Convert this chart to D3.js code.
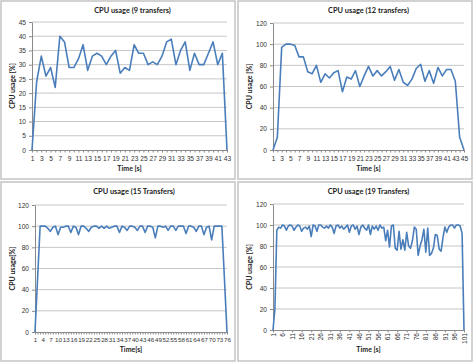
<!DOCTYPE html>
<html lang="en">
<head>
<meta charset="UTF-8" />
<title>CPU usage</title>
<script src="https://d3js.org/d3.v7.min.js"></script>
<style>
  body { margin: 0; background: #fff; }
  svg { display: block; font-family: Lato, "Open Sans", sans-serif; }
  .frame { fill: #fff; stroke: #c4c4c4; stroke-width: 1.5; }
  .grid line { stroke: #c6c6c6; stroke-width: 1; }
  .axis path, .axis line { stroke: #8a8a8a; }
  .axis text { fill: #333; font-size: 6.6px; }
  .title { font-size: 7.4px; font-weight: bold; fill: #222; }
  .label { font-size: 7px; font-weight: bold; fill: #222; }
</style>
</head>
<body>
<svg id="chart" width="474" height="363"></svg>
<script>
// CPU usage per second
const usage9 = [0, 24, 33, 26, 29, 22, 40, 38, 29, 29, 32, 37, 28, 33, 34, 33, 30, 33, 35, 27,
  29, 28, 37, 34, 34, 30, 31, 30, 33, 38, 39, 30, 35, 38, 28, 34, 30, 30, 34, 38, 30, 34, 0];

const usage12 = [0, 12, 97, 100, 100, 99, 88, 88, 74, 72, 80, 64, 72, 68, 73, 75, 55, 69, 67, 75,
  60, 70, 79, 70, 75, 70, 74, 79, 66, 76, 64, 61, 67, 77, 81, 65, 75, 63, 78, 70, 76, 76, 65, 12, 0];

const usage15 = [0, 50, 100, 100, 100, 98, 95, 99, 100, 92, 99, 99, 100, 100, 94, 100, 99, 92, 100, 100,
  98, 95, 99, 100, 100, 98, 100, 98, 100, 98, 99, 100, 100, 94, 100, 99, 96, 100, 100, 99,
  96, 100, 100, 94, 100, 100, 99, 89, 100, 100, 99, 100, 96, 100, 100, 96, 100, 100, 100, 93,
  100, 100, 99, 95, 100, 100, 92, 99, 100, 87, 100, 100, 100, 100, 50, 0];

const usage19 = [0, 20, 95, 98, 97, 100, 99, 95, 99, 100, 99, 95, 98, 100, 99, 94, 97, 98, 96, 99,
  89, 100, 99, 94, 100, 100, 98, 97, 99, 97, 100, 98, 92, 99, 100, 97, 99, 96, 98, 100,
  93, 99, 100, 96, 99, 91, 98, 100, 97, 95, 100, 91, 99, 96, 99, 95, 100, 97, 98, 85,
  95, 79, 99, 100, 78, 76, 94, 77, 86, 76, 93, 80, 78, 85, 98, 96, 71, 80, 86, 96,
  74, 97, 71, 73, 78, 91, 90, 77, 75, 88, 98, 93, 98, 100, 100, 97, 100, 100, 99, 92, 0];

const yTicks9 = [0, 5, 10, 15, 20, 25, 30, 35, 40, 45];
const yTicks100 = [0, 20, 40, 60, 80, 100, 120];

const titles = ["CPU usage (9 transfers)", "CPU usage (12 transfers)",
  "CPU usage (15 Transfers)", "CPU usage (19 Transfers)"];
const yTitles = ["CPU usage [%]", "CPU usage [%]", "CPU usage[%]", "CPU usage [%]"];
const xTitles = ["Time [s]", "Time [s]", "Time[s]", "Time [s]"];
const labelEvery = [2, 2, 3, 5];

const panels = [
  { values: usage9, yTicks: yTicks9, tickEvery: 1, rotate: false, fs: 6.6,
    box: [1, 1, 234, 178], plot: { l: 32, r: 227, t: 22, b: 150 }, yTitleX: 13 },
  { values: usage12, yTicks: yTicks100, tickEvery: 1, rotate: false, fs: 6.6,
    box: [238, 1, 234, 178], plot: { l: 273, r: 464, t: 23, b: 150 }, yTitleX: 250 },
  { values: usage15, yTicks: yTicks100, tickEvery: 1, rotate: false, fs: 6.2,
    box: [1, 182, 234, 179], plot: { l: 35, r: 227, t: 205, b: 332 }, yTitleX: 13 },
  { values: usage19, yTicks: yTicks100, tickEvery: 5, rotate: true, fs: 6.6,
    box: [238, 182, 234, 179], plot: { l: 273, r: 464, t: 204, b: 330 }, yTitleX: 250 }
];

const svg = d3.select("#chart");

panels.forEach((p, k) => {
  const g = svg.append("g");
  const [bx, by, bw, bh] = p.box;
  const cats = p.values.map((d, i) => i + 1);

  g.append("rect").attr("class", "frame")
    .attr("x", bx).attr("y", by).attr("width", bw).attr("height", bh);

  const x = d3.scalePoint().domain(cats).range([p.plot.l, p.plot.r]);
  const y = d3.scaleLinear()
    .domain([0, p.yTicks[p.yTicks.length - 1]])
    .range([p.plot.b, p.plot.t]);

  // horizontal gridlines
  g.append("g").attr("class", "grid")
    .selectAll("line")
    .data(p.yTicks.slice(1))
    .join("line")
    .attr("x1", p.plot.l).attr("x2", p.plot.r)
    .attr("y1", (d) => y(d)).attr("y2", (d) => y(d));

  // y axis
  g.append("g").attr("class", "axis")
    .attr("transform", `translate(${p.plot.l},0)`)
    .call(d3.axisLeft(y).tickValues(p.yTicks).tickSize(3).tickPadding(3).tickSizeOuter(0));

  // x axis: small tick marks, then labels
  g.append("g").attr("class", "axis")
    .attr("transform", `translate(0,${p.plot.b})`)
    .call(d3.axisBottom(x)
      .tickValues(cats.filter((d, i) => i % p.tickEvery === 0))
      .tickSize(2.5).tickSizeOuter(0).tickFormat(""));

  const labels = cats.filter((d, i) => i % labelEvery[k] === 0);
  const xl = g.append("g").attr("class", "axis")
    .attr("transform", `translate(0,${p.plot.b})`)
    .call(d3.axisBottom(x).tickValues(labels).tickSize(0).tickPadding(6));
  xl.select(".domain").remove();
  xl.selectAll("text").style("font-size", p.fs + "px");
  if (p.rotate) {
    xl.selectAll("text")
      .attr("transform", "rotate(-90)")
      .attr("text-anchor", "end")
      .attr("x", -3).attr("y", 0).attr("dy", "0.32em");
  }

  // data line
  g.append("path")
    .datum(p.values)
    .attr("fill", "none")
    .attr("stroke", "#4a7ebb")
    .attr("stroke-width", 1.6)
    .attr("stroke-linejoin", "round")
    .attr("d", d3.line().x((d, i) => x(cats[i])).y((d) => y(d)));

  // titles
  g.append("text").attr("class", "title")
    .attr("x", (p.plot.l + p.plot.r) / 2 + (k % 2 ? 0 : 3))
    .attr("y", by + 11.5)
    .attr("text-anchor", "middle")
    .text(titles[k]);

  g.append("text").attr("class", "label")
    .attr("x", (p.plot.l + p.plot.r) / 2)
    .attr("y", by + 169.5)
    .attr("text-anchor", "middle")
    .text(xTitles[k]);

  g.append("text").attr("class", "label")
    .attr("transform", `translate(${p.yTitleX},${(p.plot.t + p.plot.b) / 2}) rotate(-90)`)
    .attr("text-anchor", "middle")
    .attr("dy", "0.35em")
    .text(yTitles[k]);
});
</script>
</body>
</html>
